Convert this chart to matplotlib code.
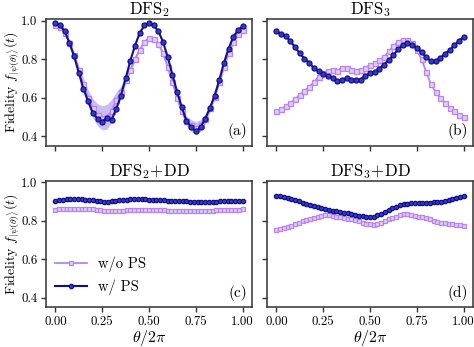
import numpy as np
import matplotlib
matplotlib.use("Agg")
import matplotlib.pyplot as plt

plt.rcParams['font.family'] = 'serif'
plt.rcParams['font.serif'] = ['cmr10', 'DejaVu Serif']
plt.rcParams['mathtext.fontset'] = 'cm'
plt.rcParams['axes.formatter.use_mathtext'] = True
plt.rcParams['axes.unicode_minus'] = False

# theta / 2pi grids
theta_top = np.linspace(0, 1, 41)
theta_bot = np.linspace(0, 1, 51)

# DFS2
dfs2_ps = [0.986, 0.975, 0.945, 0.885, 0.815, 0.730, 0.645, 0.580, 0.520, 0.490,
           0.475, 0.495, 0.485, 0.540, 0.610, 0.700, 0.790, 0.870, 0.935, 0.975,
           0.986, 0.975, 0.945, 0.890, 0.810, 0.720, 0.630, 0.550, 0.480, 0.445,
           0.425, 0.445, 0.490, 0.545, 0.610, 0.690, 0.780, 0.855, 0.915, 0.950,
           0.970]
dfs2_nops = [0.975, 0.965, 0.935, 0.885, 0.820, 0.745, 0.670, 0.600, 0.545, 0.510,
             0.495, 0.500, 0.530, 0.585, 0.630, 0.690, 0.745, 0.800, 0.850, 0.890,
             0.910, 0.905, 0.880, 0.830, 0.760, 0.680, 0.600, 0.530, 0.480, 0.455,
             0.440, 0.455, 0.490, 0.545, 0.605, 0.680, 0.760, 0.830, 0.890, 0.930,
             0.950]
dfs2_nops_err = [0.010, 0.010, 0.012, 0.015, 0.018, 0.022, 0.030, 0.040, 0.050, 0.058,
                 0.062, 0.065, 0.060, 0.045, 0.030, 0.020, 0.015, 0.012, 0.010, 0.010,
                 0.010, 0.010, 0.010, 0.012, 0.015, 0.018, 0.020, 0.022, 0.025, 0.030,
                 0.035, 0.030, 0.025, 0.020, 0.018, 0.015, 0.012, 0.010, 0.010, 0.010,
                 0.010]

# DFS3
dfs3_ps = [0.945, 0.932, 0.920, 0.893, 0.862, 0.830, 0.803, 0.782, 0.754, 0.737,
           0.725, 0.714, 0.700, 0.685, 0.693, 0.700, 0.693, 0.690, 0.694, 0.712,
           0.728, 0.735, 0.750, 0.772, 0.795, 0.820, 0.852, 0.872, 0.882, 0.876,
           0.858, 0.835, 0.810, 0.790, 0.790, 0.805, 0.828, 0.847, 0.872, 0.895,
           0.915]
dfs3_nops = [0.532, 0.540, 0.555, 0.572, 0.593, 0.615, 0.635, 0.657, 0.680, 0.708,
             0.728, 0.738, 0.742, 0.740, 0.755, 0.752, 0.745, 0.740, 0.742, 0.756,
             0.768, 0.778, 0.795, 0.810, 0.840, 0.868, 0.890, 0.902, 0.900, 0.885,
             0.845, 0.800, 0.735, 0.670, 0.630, 0.598, 0.572, 0.548, 0.528, 0.510,
             0.497]

# DFS2 + DD
dd2_ps = [0.905, 0.908, 0.910, 0.912, 0.913, 0.913, 0.912, 0.911, 0.910, 0.908,
          0.907, 0.905, 0.903, 0.900, 0.898, 0.902, 0.905, 0.906, 0.908, 0.910,
          0.911, 0.912, 0.913, 0.912, 0.911, 0.910, 0.910, 0.909, 0.908, 0.906,
          0.905, 0.905, 0.904, 0.903, 0.902, 0.901, 0.900, 0.900, 0.899, 0.898,
          0.897, 0.897, 0.898, 0.900, 0.902, 0.904, 0.903, 0.902, 0.902, 0.903,
          0.905]
dd2_nops = [0.858, 0.860, 0.862, 0.863, 0.864, 0.864, 0.863, 0.862, 0.861, 0.860,
            0.860, 0.858, 0.854, 0.850, 0.850, 0.851, 0.851, 0.852, 0.853, 0.855,
            0.856, 0.857, 0.856, 0.855, 0.855, 0.856, 0.857, 0.857, 0.856, 0.855,
            0.853, 0.852, 0.853, 0.852, 0.850, 0.850, 0.851, 0.852, 0.853, 0.852,
            0.851, 0.852, 0.853, 0.854, 0.855, 0.856, 0.856, 0.857, 0.857, 0.858,
            0.860]

# DFS3 + DD
dd3_ps = [0.927, 0.928, 0.925, 0.920, 0.914, 0.907, 0.901, 0.895, 0.889, 0.884,
          0.878, 0.872, 0.867, 0.862, 0.857, 0.853, 0.849, 0.846, 0.843, 0.840,
          0.836, 0.832, 0.827, 0.823, 0.822, 0.821, 0.822, 0.828, 0.836, 0.846,
          0.857, 0.866, 0.874, 0.880, 0.886, 0.889, 0.891, 0.891, 0.892, 0.893,
          0.894, 0.895, 0.897, 0.898, 0.900, 0.903, 0.908, 0.914, 0.920, 0.926,
          0.931]
dd3_nops = [0.754, 0.756, 0.762, 0.768, 0.775, 0.784, 0.790, 0.798, 0.805, 0.810,
            0.816, 0.820, 0.826, 0.830, 0.829, 0.826, 0.822, 0.818, 0.814, 0.812,
            0.810, 0.806, 0.798, 0.790, 0.785, 0.781, 0.779, 0.782, 0.790, 0.800,
            0.808, 0.815, 0.822, 0.828, 0.834, 0.836, 0.832, 0.826, 0.822, 0.818,
            0.814, 0.808, 0.800, 0.794, 0.790, 0.787, 0.785, 0.782, 0.779, 0.776,
            0.772]

titles = [r'$\mathrm{DFS}_2$', r'$\mathrm{DFS}_3$',
          r'$\mathrm{DFS}_2\!+\!\mathrm{DD}$', r'$\mathrm{DFS}_3\!+\!\mathrm{DD}$']
tags = ['(a)', '(b)', '(c)', '(d)']

blue = '#10108f'
blue_face = '#3a3ac0'
purple = '#b784f0'
purple_face = '#e2ccf8'

fig = plt.figure(figsize=(4.74, 3.47), dpi=100)
W, H = 474.0, 347.0
boxes = [(46, 19.3), (267, 19.3), (46, 181), (267, 181)]
axes = []
for (x0, y0) in boxes:
    ax = fig.add_axes([x0 / W, 1 - (y0 + 126.4) / H, 206 / W, 126.4 / H])
    axes.append(ax)

panels = [(theta_top, dfs2_nops, dfs2_ps),
          (theta_top, dfs3_nops, dfs3_ps),
          (theta_bot, dd2_nops, dd2_ps),
          (theta_bot, dd3_nops, dd3_ps)]

for i, (ax, (th, nops, ps)) in enumerate(zip(axes, panels)):
    if i == 0:
        lo = np.array(dfs2_nops) - np.array(dfs2_nops_err)
        hi = np.array(dfs2_nops) + np.array(dfs2_nops_err)
        ax.fill_between(th, lo, hi, color='#8a6ee0', alpha=0.45, lw=0)
    ms = 3.6 if i < 2 else 3.1
    ax.plot(th, nops, '-s', color=purple, mfc=purple_face, mec=purple,
            ms=ms, mew=0.9, lw=1.3, label='w/o PS')
    ax.plot(th, ps, '-o', color=blue, mfc=blue_face, mec=blue,
            ms=ms, mew=0.9, lw=1.5, label='w/ PS')
    ax.set_xlim(-0.05, 1.05)
    ax.set_ylim(0.35, 1.007)
    ax.set_xticks([0, 0.25, 0.5, 0.75, 1.0])
    ax.set_yticks([0.4, 0.6, 0.8, 1.0])
    ax.tick_params(direction='out', length=3.5, width=1.0, labelsize=9.2,
                   color='#333333', pad=2.5)
    for sp in ax.spines.values():
        sp.set_color('#333333')
        sp.set_linewidth(1.1)
    ax.set_title(titles[i], fontsize=12, pad=2)
    ax.text(0.975, 0.05, tags[i], transform=ax.transAxes, ha='right',
            va='bottom', fontsize=11)
    if i % 2 == 0:
        ax.set_ylabel(r'Fidelity $f_{|\psi(\theta)\rangle}(t)$', fontsize=10)
        ax.yaxis.set_label_coords(-0.12, 0.5)
        ax.set_yticklabels(['0.4', '0.6', '0.8', '1.0'])
    else:
        ax.set_yticklabels([])
    if i >= 2:
        ax.set_xlabel(r'$\theta/2\pi$', fontsize=11.5, labelpad=0)
        ax.set_xticklabels(['0.00', '0.25', '0.50', '0.75', '1.00'])
    else:
        ax.set_xticklabels([])

leg = axes[2].legend(loc='lower left', frameon=False, fontsize=10.5,
                     handlelength=2.2, borderaxespad=0.2, labelspacing=0.5,
                     bbox_to_anchor=(0.0, 0.03))

fig.savefig('out.png', dpi=100)
